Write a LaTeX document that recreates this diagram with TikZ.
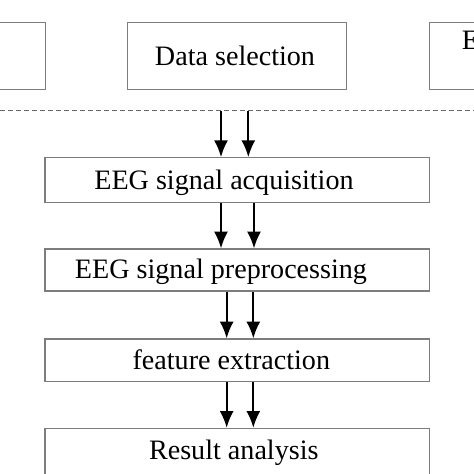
\documentclass[tikz,border=0pt]{standalone}
\usepackage{fontspec}
\setmainfont{Liberation Serif}
\usetikzlibrary{arrows.meta}
\definecolor{boxgray}{RGB}{125,125,125}
\definecolor{dashgray}{RGB}{105,105,105}
\tikzset{
  stage/.style={draw=boxgray, line width=0.8pt, inner sep=0pt},
  caption/.style={anchor=base, inner sep=0pt, font=\fontsize{20}{24}\selectfont},
  flow/.style={-{Latex[length=0.42cm,width=0.35cm]}, line width=1.4pt, black},
}

\begin{document}
\begin{tikzpicture}
            \useasboundingbox (0.00, 0.00) rectangle (11.85, 11.85);
            \clip             (0.00, 0.00) rectangle (11.85, 11.85);
            % top row
            \node[stage, minimum width=4.15cm,  minimum height=1.675cm] (left)   at (-0.93, 10.455) {};
            \node[stage, minimum width=5.485cm, minimum height=1.675cm] (select) at ( 5.93, 10.455) {};
            \node[stage, minimum width=4.27cm,  minimum height=1.675cm] (right)  at (12.87, 10.455) {};
            \node[caption]                  (selecttext) at ( 5.875, 10.2075) {Data selection};
            \node[caption, anchor=base west] (righttext) at (11.54,  10.625)  {E};
            % dashed separator
            \coordinate (sepL) at ( 0.00, 9.08);
            \coordinate (sepR) at (11.85, 9.08);
            \draw[dashgray, line width=0.7pt, dash pattern=on 3.5pt off 2.2pt] (sepL) -- (sepR);
            % pipeline
            \node[stage, minimum width=9.61cm, minimum height=1.115cm] (acq)    at (5.93, 7.35) {};
            \node[stage, minimum width=9.61cm, minimum height=1.05cm]  (prep)   at (5.93, 5.10) {};
            \node[stage, minimum width=9.61cm, minimum height=1.07cm]  (feat)   at (5.93, 2.84) {};
            \node[stage, minimum width=9.61cm, minimum height=1.64cm]  (result) at (5.93, 0.32) {};
            \node[caption] (acqtext)    at (5.600, 7.1175) {EEG signal acquisition};
            \node[caption] (preptext)   at (5.525, 4.8925) {EEG signal preprocessing};
            \node[caption] (feattext)   at (5.783, 2.600)  {feature extraction};
            \node[caption] (resulttext) at (5.845, 0.375)  {Result analysis};
            % arrows
            \coordinate (inA) at (5.525, 9.08);
            \coordinate (inB) at (6.208, 9.08);
            \draw[flow] (inA) -- (inA |- acq.north);
            \draw[flow] (inB) -- (inB |- acq.north);
            \draw[flow] ([xshift=-0.405cm]acq.south)  -- ([xshift=-0.405cm]prep.north);
            \draw[flow] ([xshift= 0.420cm]acq.south)  -- ([xshift= 0.420cm]prep.north);
            \draw[flow] ([xshift=-0.263cm]prep.south) -- ([xshift=-0.263cm]feat.north);
            \draw[flow] ([xshift= 0.403cm]prep.south) -- ([xshift= 0.403cm]feat.north);
            \draw[flow] ([xshift=-0.263cm]feat.south) -- ([xshift=-0.263cm]result.north);
            \draw[flow] ([xshift= 0.403cm]feat.south) -- ([xshift= 0.403cm]result.north);
\end{tikzpicture}
\end{document}
